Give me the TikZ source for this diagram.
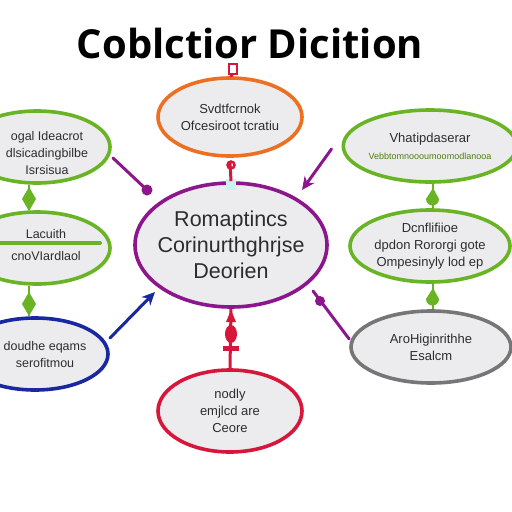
\documentclass[tikz,border=0pt]{standalone}
\usepackage{fontspec}
\setmainfont{Liberation Sans}
\newfontfamily\titlefont{Open Sans}
\usetikzlibrary{shapes.geometric,arrows.meta}
\definecolor{cOrange}{RGB}{236,112,32}
\definecolor{cGreen}{RGB}{104,180,36}
\definecolor{cPurple}{RGB}{140,22,140}
\definecolor{cBlue}{RGB}{26,40,160}
\definecolor{cGray}{RGB}{118,118,118}
\definecolor{cRed}{RGB}{214,22,58}
\definecolor{cFill}{RGB}{236,236,238}
\definecolor{cText}{RGB}{45,45,45}
\tikzset{
  bubble/.style={ellipse, draw, line width=3.6pt, fill=cFill, inner sep=0pt,
    align=center, text=cText, font=\fontsize{13}{17}\selectfont},
  small/.style={bubble, minimum width=146pt, minimum height=72pt},
  wide/.style={bubble, minimum width=160pt, minimum height=72pt},
  txt/.style={align=center, text=cText, inner sep=0pt, font=\fontsize{12.5}{17}\selectfont},
  link/.style={line width=3pt, line cap=round},
}
\begin{document}
\begin{tikzpicture}[x=1pt,y=-1pt]
\useasboundingbox (0,0) rectangle (512,512);
\clip (0,0) rectangle (512,512);
\fill[white] (0,0) rectangle (512,512);
% title
\node[font=\titlefont\bfseries\fontsize{40}{44}\selectfont, text=black] (title) at (250,43) {Coblctior Dicition};
% bubbles
\node[small, draw=cOrange, minimum width=144pt, minimum height=78pt] (top) at (230,117) {Svdtfcrnok\\Ofcesiroot tcratiu};
\node[bubble, draw=cPurple, minimum width=192pt, minimum height=124pt, inner xsep=-12pt, inner ysep=-6pt, font=\fontsize{21.5}{26}\selectfont] (core) at (231,245) {Romaptincs\\Corinurthghrjse\\Deorien};
\node[small, draw=cGreen] (lt) at (37,147) {};
\node[txt] (ltx) at (47,153) {ogal Ideacrot\\dlsicadingbilbe\\Isrsisua};
\node[small, draw=cGreen] (lm) at (37,248) {};
\node[txt, font=\fontsize{12.5}{22}\selectfont] (lmx) at (46,245) {Lacuith\\cnoVIardlaol};
\node[small, draw=cBlue] (lb) at (35,354) {};
\node[txt] (lbx) at (45,355) {doudhe eqams\\serofitmou};
\node[wide, draw=cGreen] (rt) at (430,146) {Vhatipdaserar\\{\fontsize{9}{12}\selectfont\color{cGreen!70!black}Vebbtomnoooumoomodlanooa}};
\node[wide, draw=cGreen] (rm) at (430,246) {Dcnflifiioe\\dpdon Rororgi gote\\Ompesinyly lod ep};
\node[wide, draw=cGray] (rb) at (431,347) {AroHiginrithhe\\Esalcm};
\node[small, draw=cRed, minimum width=144pt, minimum height=82pt] (bot) at (230,411) {nodly\\emjlcd are\\Ceore};
% green bar over left middle text
\draw[cGreen, line width=4pt, line cap=round] (0,243) -- (100,243);
% top tab
\node[draw=cRed, fill=white, line width=2.5pt, minimum width=8pt, minimum height=10pt, inner sep=0pt] (tab) at (233,69) {};
\draw[cRed, line width=2.5pt] (tab.south) -- (top.north);
% red hook between top and core
\coordinate (hk) at (231,168);
\fill[cRed!25!cyan!25!white] (226,179) rectangle (236,190);
\draw[cRed, line width=3pt] (top.south) ++(0,4) coordinate (hktop) -- (hk |- core.north);
\draw[cRed, line width=2.5pt] (231,165) circle (3.5pt);
% purple dot line from lt to core
\coordinate (pd1) at (147,190);
\draw[link, cPurple] (113,158) -- (pd1);
\fill[cPurple] (pd1) circle (5.5pt);
% purple arrow from rt to core
\draw[link, cPurple, -{Stealth[length=13pt,width=12pt,inset=4pt]}] (rt.west) ++(-10,3) -- (302,190);
% blue arrow
\draw[link, cBlue, -{Stealth[length=13pt,width=12pt,inset=4pt]}] (110,338) -- (155,292);
% purple dot line from rb to core
\coordinate (pd2) at (320,301);
\draw[link, cPurple] (rb.west) ++(0,-8) -- (313,291);
\fill[cPurple] (pd2) circle (5pt);
% red connector core -> bot
\draw[cRed, line width=3pt] (core.south) -- (bot.north);
\fill[cRed] (231,310) -- (236,322) -- (226,322) -- cycle;
\fill[cRed] (231,334) ellipse (6pt and 9pt);
\fill[cRed] (223,346) rectangle (239,351);
% green drops
\coordinate (dl) at (29,0);
\coordinate (dr) at (433,0);
\draw[cGreen, line width=2.5pt] (lt.south -| dl) -- (lm.north -| dl);
\fill[cGreen] (29,187) -- (36,199) -- (29,211) -- (22,199) -- cycle;
\draw[cGreen, line width=2.5pt] (lm.south -| dl) -- (lb.north -| dl);
\fill[cGreen] (29,292) -- (36,304) -- (29,316) -- (22,304) -- cycle;
\draw[cGreen, line width=2.5pt] (rt.south -| dr) -- (rm.north -| dr);
\fill[cGreen] (433,188) -- (439,199) arc (0:180:6.5) -- cycle;
\draw[cGreen, line width=2.5pt] (rm.south -| dr) -- (rb.north -| dr);
\fill[cGreen] (433,288) -- (439,299) arc (0:180:6.5) -- cycle;
\end{tikzpicture}
\end{document}
